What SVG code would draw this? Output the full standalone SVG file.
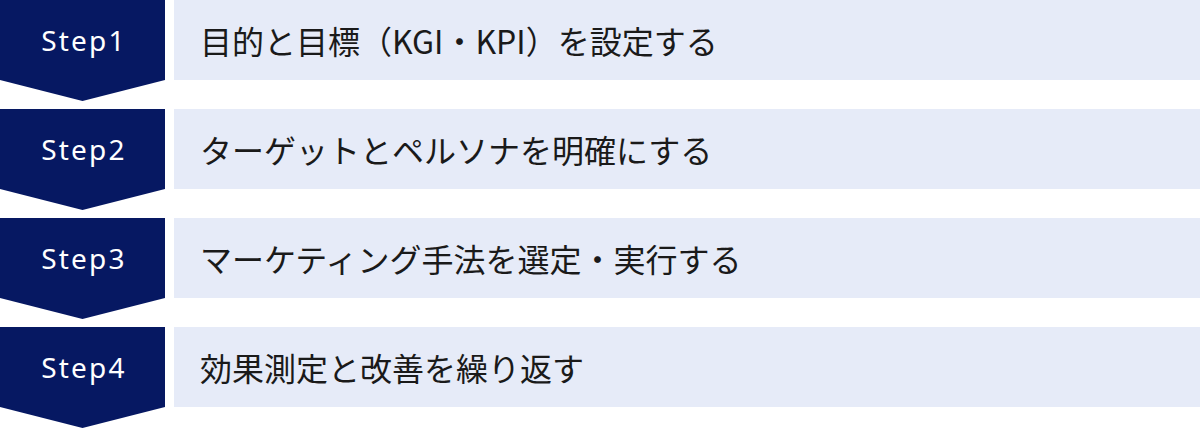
<svg xmlns="http://www.w3.org/2000/svg" width="1200" height="429" viewBox="0 0 1200 429">
<defs>
<style>
.chev{fill:#061862;}
.box{fill:#e6ebf8;}
.step{font-family:"Noto Sans","Noto Sans CJK JP",sans-serif;font-size:28px;fill:#ffffff;letter-spacing:2.2px;}
.label{font-family:"Noto Sans CJK JP","Noto Sans",sans-serif;font-size:32px;fill:#1a1a1a;}
</style>
<polygon id="chevShape" points="0,0 165,0 165,80 82.5,101 0,80"/>
</defs>
<rect width="1200" height="429" fill="#ffffff"/>
<g id="connectors"></g>
<g id="step1" transform="translate(0,0)">
<use href="#chevShape" class="chev"/>
<rect class="box" x="174" y="0" width="1026" height="80"/>
<text class="step" x="84" y="51" text-anchor="middle">Step1</text>
<text class="label" x="200" y="40" dominant-baseline="central">目的と目標（KGI・KPI）を設定する</text>
</g>
<g id="step2" transform="translate(0,109)">
<use href="#chevShape" class="chev"/>
<rect class="box" x="174" y="0" width="1026" height="80"/>
<text class="step" x="84" y="51" text-anchor="middle">Step2</text>
<text class="label" x="200" y="40" dominant-baseline="central">ターゲットとペルソナを明確にする</text>
</g>
<g id="step3" transform="translate(0,218)">
<use href="#chevShape" class="chev"/>
<rect class="box" x="174" y="0" width="1026" height="80"/>
<text class="step" x="84" y="51" text-anchor="middle">Step3</text>
<text class="label" x="200" y="40" dominant-baseline="central">マーケティング手法を選定・実行する</text>
</g>
<g id="step4" transform="translate(0,327)">
<use href="#chevShape" class="chev"/>
<rect class="box" x="174" y="0" width="1026" height="80"/>
<text class="step" x="84" y="51" text-anchor="middle">Step4</text>
<text class="label" x="200" y="40" dominant-baseline="central">効果測定と改善を繰り返す</text>
</g>
</svg>
